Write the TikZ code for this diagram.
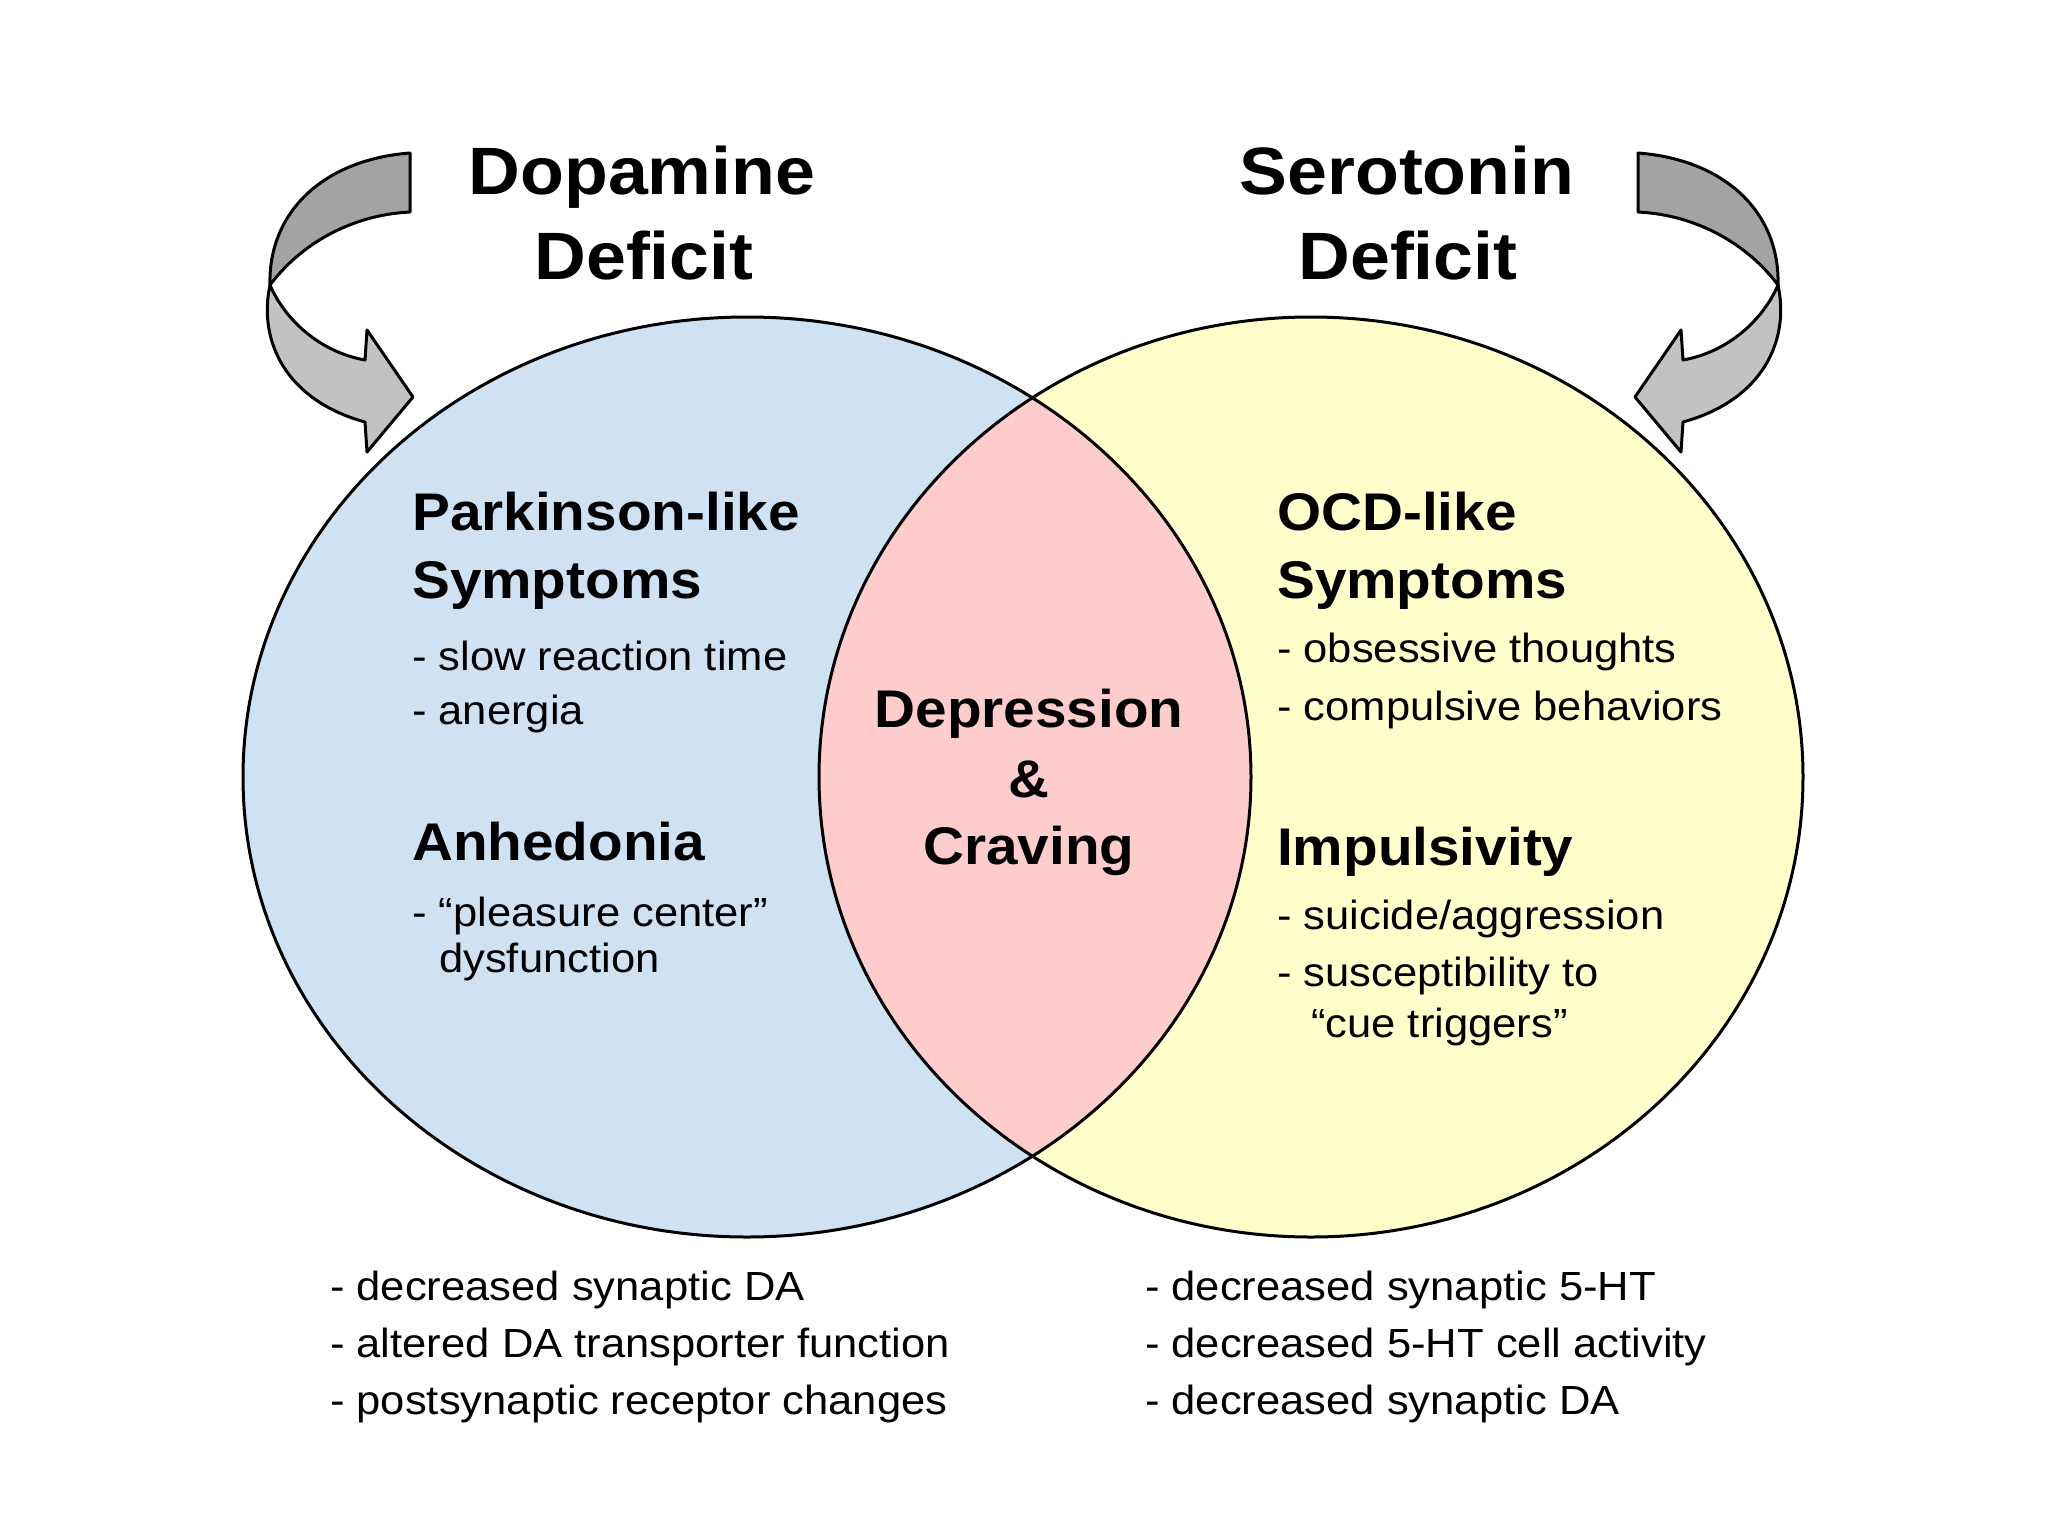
\documentclass[tikz,border=0pt]{standalone}
\usepackage{fontspec}
\setmainfont{Liberation Sans}[FakeStretch=1.07]
\definecolor{dablue}{HTML}{CFE2F3}
\definecolor{seryellow}{HTML}{FFFFCC}
\definecolor{lenspink}{HTML}{FFCCCC}
\definecolor{ribbondark}{HTML}{A3A3A3}
\definecolor{ribbonlight}{HTML}{C2C2C2}
\newcommand{\DrawRibbon}{%
  \filldraw[fill=ribbondark, ribbonline]
    (410,153) .. controls (320,160) and (268,215) .. (270,285)
    .. controls (300,245) and (350,215) .. (410,212) -- cycle;
  \filldraw[fill=ribbonlight, ribbonline]
    (270,285) .. controls (258,340) and (285,400) .. (365,422)
    -- (367,452) -- (413,397) -- (367,330) -- (365,360)
    .. controls (320,352) and (285,320) .. (270,285) -- cycle;
}
\begin{document}
\begin{tikzpicture}[x=1pt,y=-1pt,
  ribbonline/.style={draw=black, line width=3pt, line join=round},
  circline/.style={draw=black, line width=3pt},
  titletext/.style={anchor=base, inner sep=0pt, font=\bfseries\fontsize{67}{80}\selectfont},
  headtext/.style={anchor=base west, inner sep=0pt, font=\bfseries\fontsize{53}{64}\selectfont},
  midtext/.style={anchor=base, inner sep=0pt, font=\bfseries\fontsize{53}{64}\selectfont},
  bodytext/.style={anchor=base west, inner sep=0pt, font=\fontsize{40.7}{49}\selectfont}]
\useasboundingbox[fill=white] (0,0) rectangle (2048,1536);

% circles
\fill[dablue] (747,777) ellipse [x radius=504pt, y radius=460pt];
\fill[seryellow] (1311,777) ellipse [x radius=492pt, y radius=460pt];
\begin{scope}
  \clip (747,777) ellipse [x radius=504pt, y radius=460pt];
  \fill[lenspink] (1311,777) ellipse [x radius=492pt, y radius=460pt];
\end{scope}
\draw[circline] (747,777) ellipse [x radius=504pt, y radius=460pt];
\draw[circline] (1311,777) ellipse [x radius=492pt, y radius=460pt];

% ribbon arrows
\DrawRibbon
\begin{scope}[xshift=2048pt, xscale=-1]
  \DrawRibbon
\end{scope}

% titles
\node[titletext] (dop1) at (642,194) {Dopamine};
\node[titletext] (dop2) at (644,279) {Deficit};
\node[titletext] (ser1) at (1407,194) {Serotonin};
\node[titletext] (ser2) at (1408,279) {Deficit};

% left circle
\node[headtext] (park1) at (412,530) {Parkinson-like};
\node[headtext] (park2) at (412,598) {Symptoms};
\node[bodytext] (slow) at (412,670) {- slow reaction time};
\node[bodytext] (anerg) at (412,724) {- anergia};
\node[headtext] (anhed) at (412,860) {Anhedonia};
\node[bodytext] (pleas) at (412,926) {- “pleasure center”};
\node[bodytext] (dysf) at (439,972) {dysfunction};

% middle
\node[midtext] (depr) at (1029,727) {Depression};
\node[midtext] (amp) at (1029,797) {\&};
\node[midtext] (crav) at (1029,864) {Craving};

% right circle
\node[headtext] (ocd1) at (1277,530) {OCD-like};
\node[headtext] (ocd2) at (1277,598) {Symptoms};
\node[bodytext] (obs) at (1277,662) {- obsessive thoughts};
\node[bodytext] (comp) at (1277,720) {- compulsive behaviors};
\node[headtext] (impul) at (1277,865) {Impulsivity};
\node[bodytext] (suic) at (1277,929) {- suicide/aggression};
\node[bodytext] (susc) at (1277,986) {- susceptibility to};
\node[bodytext] (cue) at (1311,1037) {“cue triggers”};

% bottom lists
\node[bodytext] (bl1) at (330,1300) {- decreased synaptic DA};
\node[bodytext] (bl2) at (330,1357) {- altered DA transporter function};
\node[bodytext] (bl3) at (330,1414) {- postsynaptic receptor changes};
\node[bodytext] (br1) at (1145,1300) {- decreased synaptic 5-HT};
\node[bodytext] (br2) at (1145,1357) {- decreased 5-HT cell activity};
\node[bodytext] (br3) at (1145,1414) {- decreased synaptic DA};
\end{tikzpicture}
\end{document}
